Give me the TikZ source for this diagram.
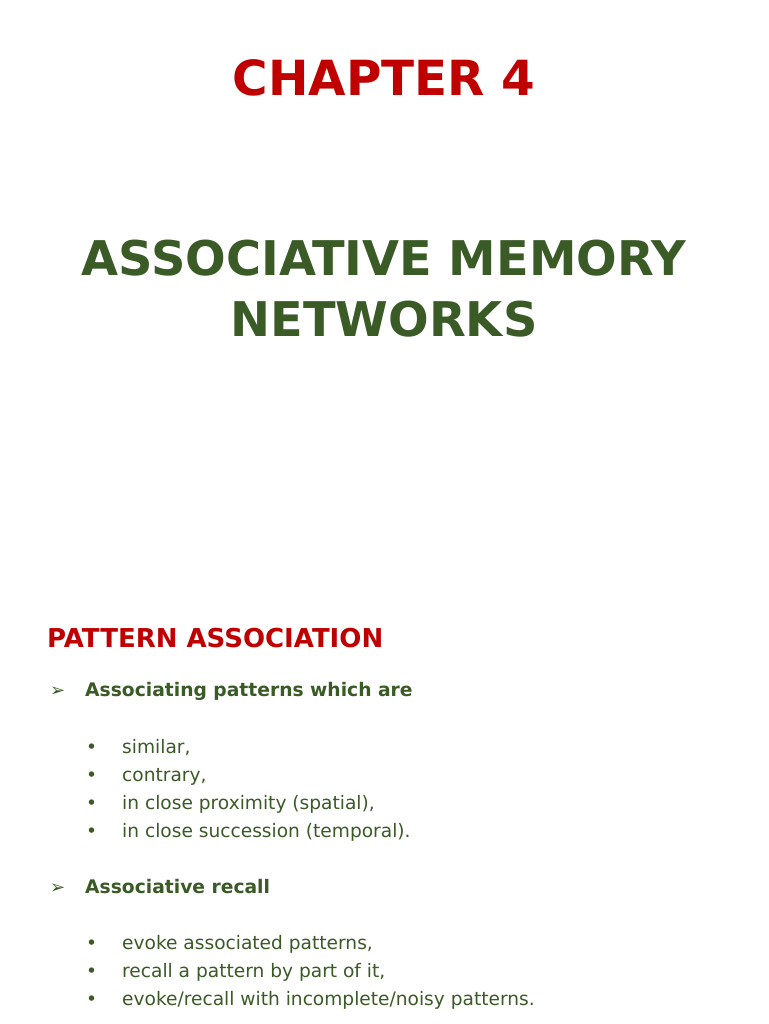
\documentclass[tikz,border=0pt]{standalone}
\usepackage{fontspec}
\setmainfont{DejaVu Sans}
\definecolor{tred}{HTML}{C00000}
\definecolor{tgreen}{HTML}{3A5A26}
\begin{document}
\begin{tikzpicture}[x=1pt,y=-1pt,
  title/.style={font=\bfseries\fontsize{48.4}{58}\selectfont,text=tred,anchor=base,inner sep=0},
  big/.style={font=\bfseries\fontsize{47.8}{57}\selectfont,text=tgreen,anchor=base,inner sep=0},
  head/.style={font=\bfseries\fontsize{26}{31}\selectfont,text=tred,anchor=base west,inner sep=0},
  sub/.style={font=\bfseries\fontsize{18.7}{22}\selectfont,text=tgreen,anchor=base west,inner sep=0},
  item/.style={font=\fontsize{18.6}{22}\selectfont,text=tgreen,anchor=base west,inner sep=0},
  arrowmark/.style={font=\fontsize{18}{22}\selectfont,text=tgreen,anchor=base west,inner sep=0}]
\useasboundingbox[fill=white] (0,0) rectangle (768,1024);
\node[title] (t) at (384,96) {CHAPTER 4};
\node[big] (a1) at (384,275) {ASSOCIATIVE MEMORY};
\node[big] (a2) at (384,336) {NETWORKS};
\node[head] (h) at (47,647) {PATTERN ASSOCIATION};
\node[arrowmark] (m1) at (50,696) {➢};
\node[sub] (s1) at (85,696) {Associating patterns which are};
\foreach \y/\t [count=\i] in {753/{similar,},781/{contrary,},809/{in close proximity (spatial),},837/{in close succession (temporal).}}{
  \node[item] (b\i) at (86,\y) {•};
  \node[item] (i\i) at (122,\y) {\t};
}
\node[arrowmark] (m2) at (50,893) {➢};
\node[sub] (s2) at (85,893) {Associative recall};
\foreach \y/\t [count=\i] in {949/{evoke associated patterns,},977/{recall a pattern by part of it,},1005/{evoke/recall with incomplete/noisy patterns.}}{
  \node[item] (c\i) at (86,\y) {•};
  \node[item] (j\i) at (122,\y) {\t};
}
\end{tikzpicture}
\end{document}
